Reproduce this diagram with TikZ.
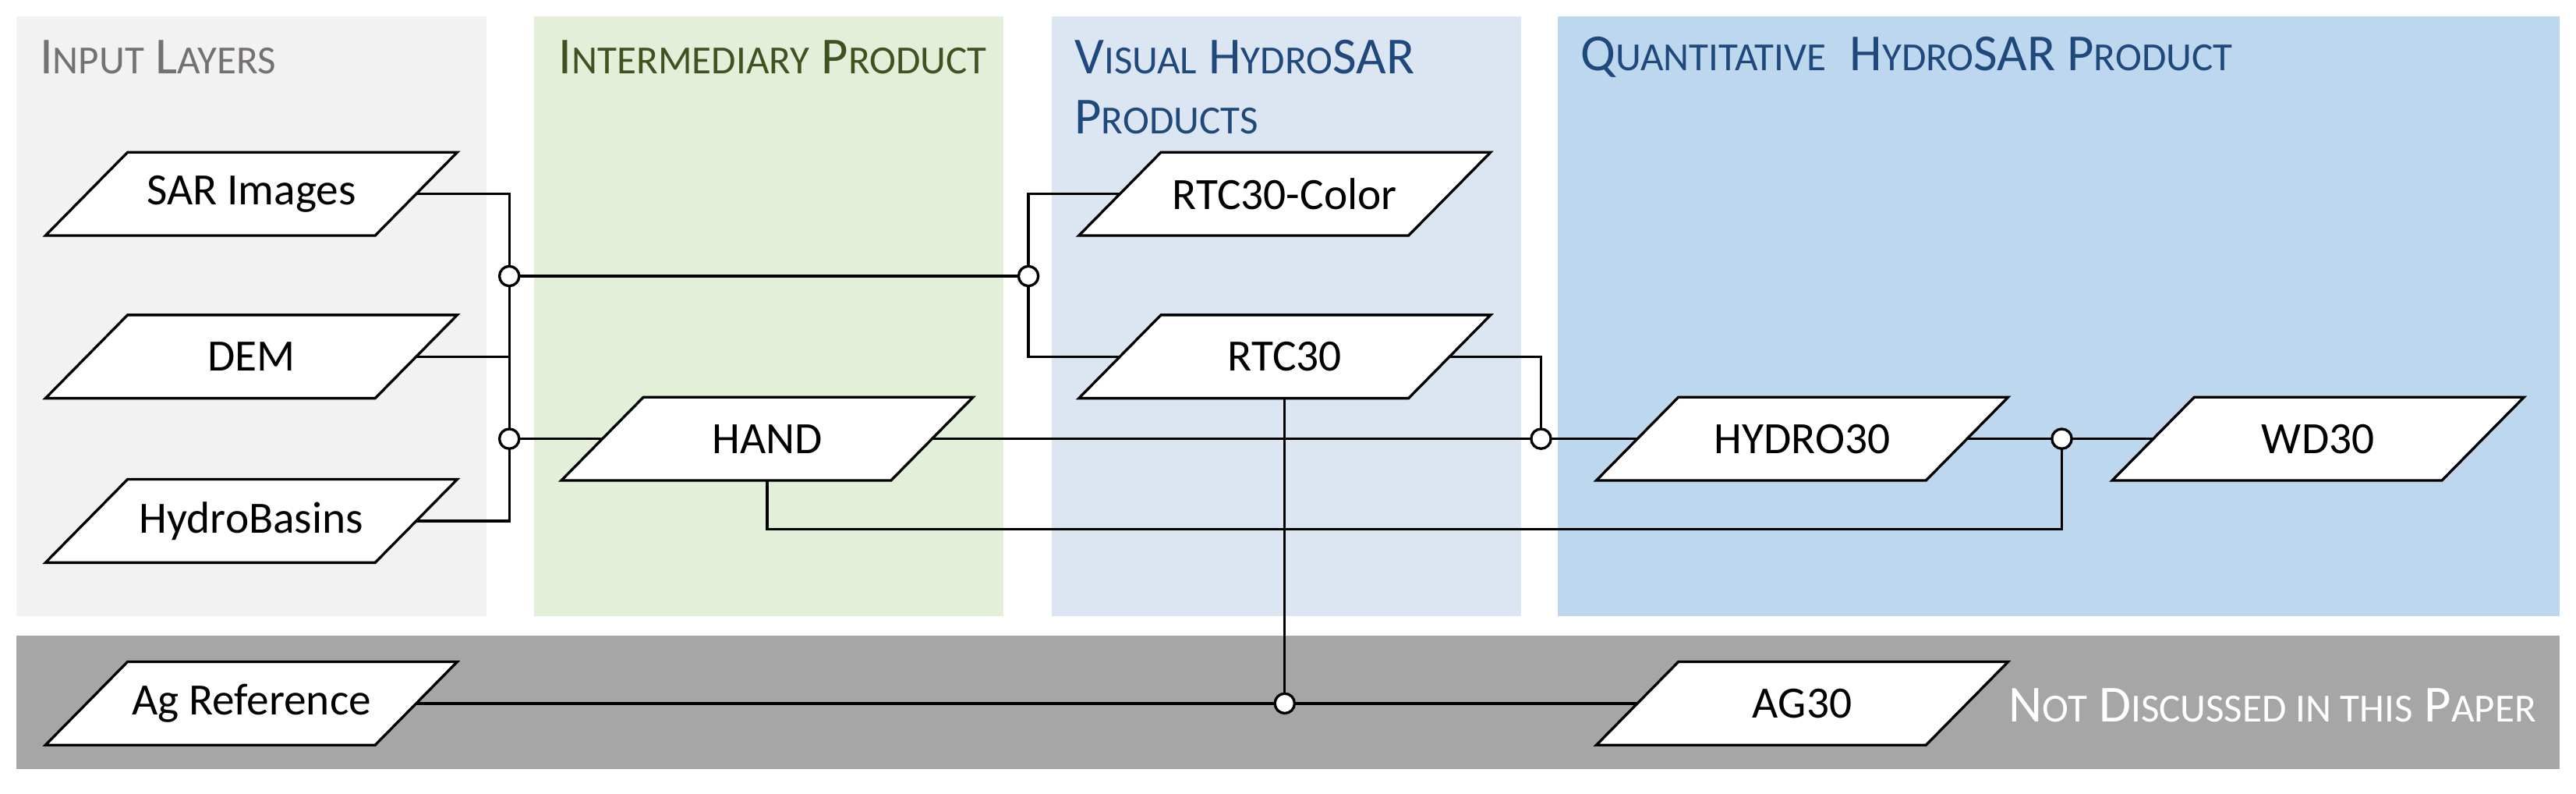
\documentclass[tikz,border=0pt]{standalone}
\usepackage{fontspec}
\setmainfont{Carlito}
\begin{document}
\newcommand\SCa[1]{{\fontsize{18}{20}\selectfont #1}}
\newcommand\SCb[1]{{\fontsize{13.8}{16}\selectfont #1}}
\definecolor{pgray}{HTML}{F2F2F2}
\definecolor{pgreen}{HTML}{E3EFD9}
\definecolor{plblue}{HTML}{DCE6F2}
\definecolor{pblue}{HTML}{BDD7EE}
\definecolor{band}{HTML}{A6A6A6}
\definecolor{tgray}{HTML}{767171}
\definecolor{tgreen}{HTML}{3F5220}
\definecolor{tblue}{HTML}{1F497D}
\begin{tikzpicture}[x=0.02cm,y=-0.02cm,
  box/.style={minimum width=4cm,minimum height=1cm,inner sep=0pt,font=\fontsize{15.5}{18}\selectfont},
  ln/.style={line width=0.9pt,black},
  jn/.style={circle,draw,line width=0.9pt,fill=white,minimum size=0.24cm,inner sep=0pt},
  hd/.style={anchor=west,align=left,font=\fontsize{18}{21}\selectfont}]
\useasboundingbox (0,0) rectangle (1568,483);
\fill[pgray] (10,10) rectangle (296,375);
\fill[pgreen] (325,10) rectangle (611,375);
\fill[plblue] (640,10) rectangle (926,375);
\fill[pblue] (948,10) rectangle (1558,375);
\fill[band] (10,387) rectangle (1558,468);
\node[hd,text=tgray] (h1) at (18,35) {\SCa{I}\SCb{NPUT} \SCa{L}\SCb{AYERS}};
\node[hd,text=tgreen] (h2) at (334,35) {\SCa{I}\SCb{NTERMEDIARY} \SCa{P}\SCb{RODUCT}};
\node[hd,text=tblue] (h3) at (648,53) {\SCa{V}\SCb{ISUAL} \SCa{H}\SCb{YDRO}\SCa{SAR}\\\SCa{P}\SCb{RODUCTS}};
\node[hd,text=tblue] (h4) at (956,35) {\SCa{Q}\SCb{UANTITATIVE} \ \SCa{H}\SCb{YDRO}\SCa{SAR} \SCa{P}\SCb{RODUCT}};
\node[anchor=east,text=white,font=\fontsize{18}{21}\selectfont] (h5) at (1550,429) {\SCa{N}\SCb{OT} \SCa{D}\SCb{ISCUSSED IN THIS} \SCa{P}\SCb{APER}};
\newcommand\para[4]{%
  \node[box] (#1) at (#2,#3) {#4};
  \draw[ln,fill=white] ([xshift=0.5cm]#1.north west) -- ([xshift=0.5cm]#1.north east) -- ([xshift=-0.5cm]#1.south east) -- ([xshift=-0.5cm]#1.south west) -- cycle;
  \node[box] at (#1) {#4};}
\para{sar}{153}{118}{SAR Images}
\para{dem}{153}{217}{DEM}
\para{hb}{153}{317}{HydroBasins}
\para{hand}{467}{267}{HAND}
\para{rtcc}{782}{118}{RTC30-Color}
\para{rtc}{782}{217}{RTC30}
\para{hydro}{1097}{267}{HYDRO30}
\para{wd}{1411}{267}{WD30}
\para{ag}{153}{428}{Ag Reference}
\para{ag30}{1097}{428}{AG30}
\coordinate (j1) at (310,168);
\coordinate (j2) at (310,267);
\coordinate (j3) at (626,168);
\coordinate (j4) at (938,267);
\coordinate (j5) at (1255,267);
\coordinate (j6) at (782,428);
\coordinate (hb1) at (467,322);
\draw[ln] (sar.east) -| (j1);
\draw[ln] (dem.east) -- (310,217);
\draw[ln] (j1) -- (j2);
\draw[ln] (hb.east) -| (j2);
\draw[ln] (j1) -- (j3);
\draw[ln] (j3) |- (rtcc.west);
\draw[ln] (j3) |- (rtc.west);
\draw[ln] (j2) -- (hand.west);
\draw[ln] (hand.east) -- (j4) -- (hydro.west);
\draw[ln] (rtc.east) -| (j4);
\draw[ln] (hydro.east) -- (j5) -- (wd.west);
\draw[ln] (hand.south) -- (hb1) -| (j5);
\draw[ln] (rtc.south) -- (j6);
\draw[ln] (ag.east) -- (j6) -- (ag30.west);
\foreach \j in {j1,j2,j3,j4,j5,j6} \node[jn] at (\j) {};
\end{tikzpicture}
\end{document}
